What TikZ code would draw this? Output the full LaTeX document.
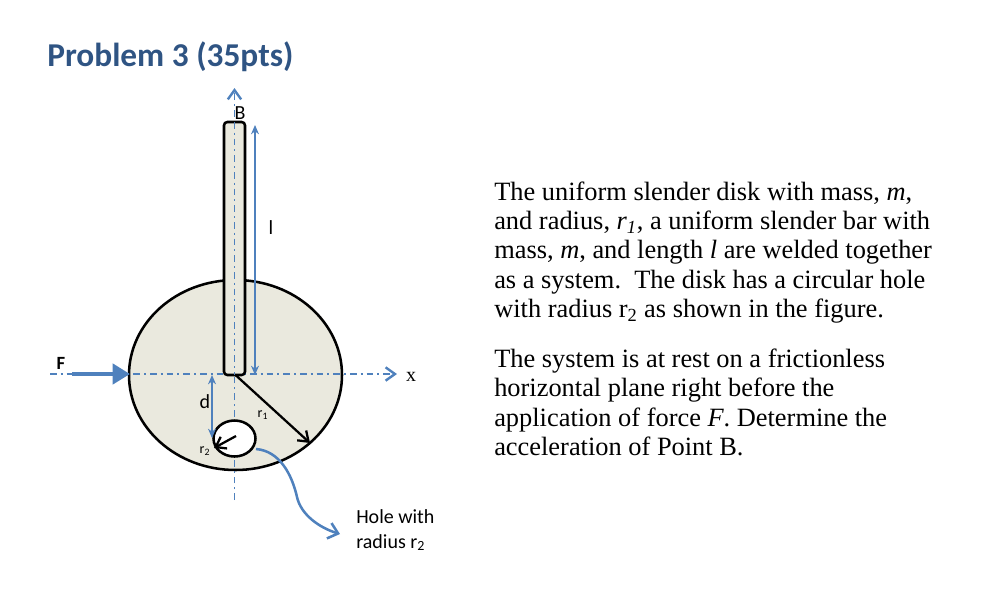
\documentclass[tikz,border=0pt]{standalone}
\usepackage{fontspec}
\setmainfont{Liberation Serif}
\newfontfamily\calfont{Carlito}
\usetikzlibrary{arrows.meta,calc}
\usepackage{tkz-euclide}

\definecolor{axisblue}{HTML}{4F81BD}
\definecolor{titleblue}{HTML}{2F5483}
\definecolor{diskfill}{HTML}{EAE9DE}

\tikzset{
  axisline/.style={line width=0.8pt,color=axisblue,dash pattern=on 5pt off 3pt on 1.5pt off 3pt},
  axistip/.style={-{Straight Barb[length=7pt,width=10pt,line width=1.8pt]}},
  dimline/.style={line width=0.9pt,color=axisblue,{Stealth[length=7pt,width=6pt]}-{Stealth[length=7pt,width=6pt]}},
  bodyline/.style={line width=1.9pt,color=black},
  blacktip/.style={line width=1.7pt,color=black,-{Straight Barb[length=7pt,width=10pt,line width=1.7pt]}},
  bodytext/.style={anchor=base west,inner sep=0pt,font=\fontsize{19.8}{22}\selectfont},
  figlabel/.style={inner sep=0pt,font=\calfont\fontsize{15}{18}\selectfont},
  tinylabel/.style={inner sep=0pt,font=\calfont\fontsize{10.5}{12}\selectfont}
}

\begin{document}
\begin{tikzpicture}[x=0.75pt,y=-0.75pt]
\useasboundingbox (0,0) rectangle (982,594);

\tkzDefPoints{235.5/375/O,50/374/XL,397/374/XR,234.5/88/YT,234.5/500/YB,72/374/FL,130/374/FR,
  212/375/DT,212/438/DB,255/125/LT,255/375/LB,310/443/RA,236/436/HC,214/448/RB,256/449/CS,340/534/CE}

% disk, axes, hole and bar
\draw[bodyline,fill=diskfill] (O) ellipse [x radius=106.5,y radius=95];
\draw[axisline,axistip] (XL) -- (XR);
\draw[axisline,axistip] (YB) -- (YT);
\draw[bodyline,fill=white] (234.5,438.5) ellipse [x radius=21,y radius=18];
\draw[bodyline,fill=diskfill,rounded corners=2.5pt] (224,122) rectangle (245,375);
\draw[axisline] (234.5,122) -- (234.5,375);

% force and dimensions
\draw[color=axisblue,line width=3.6pt,-{Stealth[length=13pt,width=15pt,inset=0pt]}] (FL) -- (FR);
\draw[dimline] (DT) -- (DB);
\draw[dimline] (LT) -- (LB);
\draw[blacktip] (O) -- (RA);
\draw[blacktip] (HC) -- (RB);
\draw[color=axisblue,line width=1.9pt,-{Straight Barb[length=7pt,width=12pt,line width=1.9pt]}]
  (CS) .. controls (280,451) and (292,475) .. (297,497) .. controls (301,515) and (320,528) .. (CE);

% labels of the figure
\node[figlabel,font=\calfont\bfseries\fontsize{14}{16}\selectfont] (lbF) at (61,363) {F};
\node[figlabel] (lbB) at (240,113) {B};
\node[figlabel] (lbl) at (271,228) {l};
\node[figlabel,font=\fontsize{15}{16}\selectfont] (lbx) at (411,377) {x};
\node[figlabel] (lbd) at (205,402) {d};
\node[tinylabel] (lbra) at (263,415) {r\textsubscript{1}};
\node[tinylabel] (lbrb) at (205,451) {r\textsubscript{2}};
\node[figlabel,anchor=base west] (lbh) at (356,523) {Hole with};
\node[figlabel,anchor=base west] (lbr) at (356,548) {radius r\textsubscript{2}};

% title and text
\node[anchor=base west,inner sep=0pt,color=titleblue,font=\calfont\bfseries\fontsize{25}{28}\selectfont] (title) at (47,66) {Problem 3 (35pts)};
\node[bodytext] (ta) at (494,200) {The uniform slender disk with mass, \textit{m},};
\node[bodytext] (tb) at (494,229) {and radius, \textit{r\textsubscript{1}}, a uniform slender bar with};
\node[bodytext] (tc) at (494,258) {mass, \textit{m}, and length \textit{l} are welded together};
\node[bodytext] (td) at (494,288) {as a system.\ \ The disk has a circular hole};
\node[bodytext] (te) at (494,317) {with radius r\textsubscript{2} as shown in the figure.};
\node[bodytext] (tf) at (494,367) {The system is at rest on a frictionless};
\node[bodytext] (tg) at (494,396) {horizontal plane right before the};
\node[bodytext] (th) at (494,426) {application of force \textit{F}. Determine the};
\node[bodytext] (ti) at (494,455) {acceleration of Point B.};
\end{tikzpicture}
\end{document}
